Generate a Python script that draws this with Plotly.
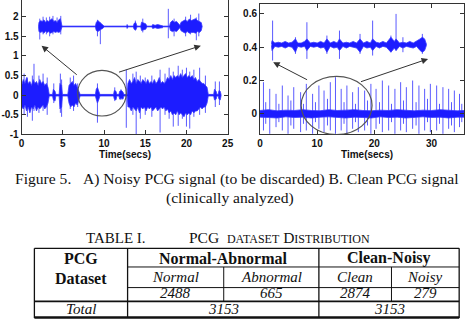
import plotly.graph_objects as go

# ---------------- Panel A: noisy PCG (left) ----------------
# envelope of the dense signal bursts (time, upper, lower)
a_env_t = [0.0, 0.2, 0.4, 0.6, 0.8, 1.0, 1.2, 1.4, 1.6, 1.8, 2.0, 2.2, 2.4, 2.6, 2.8, 3.0, 3.2, 3.35,
           3.75, 3.85, 4.05, 4.15, 4.55, 4.65, 4.85, 4.95, 5.6, 5.75, 5.95, 6.15, 6.35, 6.55, 6.75, 6.95, 7.1,
           8.95, 9.05, 9.2, 9.35, 9.5, 11.15, 11.25, 11.45, 11.55, 11.8, 11.9, 12.1, 12.3, 12.4, 12.8,
           12.9, 13.1, 13.3, 13.5, 13.7, 13.9, 14.1, 14.3, 14.5, 14.7, 14.9, 15.1, 15.3, 15.5, 15.7, 15.9,
           16.1, 16.3, 16.5, 16.7, 16.9, 17.1, 17.3, 17.5, 17.7, 17.9, 18.1, 18.3, 18.5, 18.7, 18.9, 19.1,
           19.3, 19.5, 19.7, 19.9, 20.1, 20.3, 20.5, 20.7, 20.9, 21.1, 21.3, 21.5, 21.7, 21.9, 22.1, 22.3,
           22.5, 22.65, 23.3, 23.4, 23.6, 23.7, 23.85, 23.95, 24.1, 24.2]
a_env_hi = [0.25, 0.4, 0.3, 0.45, 0.3, 0.35, 0.25, 0.4, 0.3, 0.35, 0.25, 0.4, 0.3, 0.35, 0.25, 0.3, 0.2, 0.02,
            0.02, 0.15, 0.1, 0.02, 0.02, 0.3, 0.25, 0.02, 0.02, 0.25, 0.3, 0.35, 0.25, 0.3, 0.2, 0.1, 0.02,
            0.02, 0.15, 0.2, 0.12, 0.02, 0.02, 0.12, 0.1, 0.02, 0.02, 0.1, 0.12, 0.08, 0.02, 0.02,
            0.3, 0.4, 0.3, 0.35, 0.45, 0.3, 0.4, 0.35, 0.3, 0.4, 0.35, 0.3, 0.4, 0.3, 0.35, 0.3,
            0.4, 0.3, 0.35, 0.45, 0.3, 0.35, 0.3, 0.35, 0.45, 0.4, 0.5, 0.4, 0.5, 0.45, 0.5, 0.45,
            0.55, 0.45, 0.5, 0.55, 0.45, 0.5, 0.45, 0.5, 0.4, 0.45, 0.35, 0.4, 0.35, 0.3, 0.3, 0.25,
            0.2, 0.02, 0.02, 0.15, 0.1, 0.02, 0.02, 0.12, 0.1, 0.02]
a_env_lo = [-0.3, -0.35, -0.25, -0.4, -0.3, -0.45, -0.3, -0.35, -0.25, -0.4, -0.3, -0.35, -0.3, -0.25, -0.35, -0.3, -0.2, -0.02,
            -0.02, -0.12, -0.15, -0.02, -0.02, -0.35, -0.3, -0.02, -0.02, -0.2, -0.3, -0.25, -0.3, -0.2, -0.25, -0.1, -0.02,
            -0.02, -0.1, -0.2, -0.12, -0.02, -0.02, -0.1, -0.12, -0.02, -0.02, -0.1, -0.08, -0.1, -0.02, -0.02,
            -0.3, -0.3, -0.4, -0.3, -0.35, -0.4, -0.3, -0.45, -0.3, -0.35, -0.3, -0.4, -0.3, -0.35, -0.3, -0.4,
            -0.35, -0.3, -0.4, -0.35, -0.3, -0.35, -0.3, -0.4, -0.35, -0.45, -0.4, -0.5, -0.45, -0.5, -0.4, -0.5,
            -0.45, -0.5, -0.55, -0.45, -0.5, -0.45, -0.5, -0.4, -0.45, -0.4, -0.4, -0.35, -0.3, -0.35, -0.3, -0.3,
            -0.2, -0.02, -0.02, -0.12, -0.1, -0.02, -0.02, -0.1, -0.12, -0.02]
# isolated spikes (time, top, bottom)
a_spk_t = [0.3, 0.7, 1.3, 1.5, 2.1, 2.6, 3.1, 3.9, 4.7, 4.85, 5.9, 6.3, 6.8, 9.2, 11.3, 12.05, 12.7, 13.5,
           13.9, 14.4, 15.0, 15.8, 16.8, 17.4, 17.9, 18.4, 19.0, 19.5, 20.0, 20.4, 20.9, 21.6, 22.3, 23.5, 24.0]
a_spk_hi = [0.55, 0.45, 0.5, 0.8, 0.5, 0.55, 0.45, 0.3, 0.55, 0.4, 0.45, 0.5, 0.3, 0.3, 0.2, 0.15, 0.65, 0.55,
            0.6, 0.5, 0.45, 0.5, 0.65, 0.55, 0.7, 0.6, 0.75, 0.65, 0.7, 0.6, 0.65, 0.7, 0.5, 0.35, 0.35]
a_spk_lo = [-0.5, -0.55, -0.65, -0.4, -0.45, -0.4, -0.5, -0.2, -0.45, -0.55, -0.35, -0.4, -0.3, -0.7, -0.15, -0.12, -0.83, -0.5,
            -1.0, -0.6, -0.5, -0.55, -0.95, -0.5, -0.6, -0.8, -0.78, -0.6, -0.8, -0.85, -0.55, -0.5, -0.45, -0.3, -0.25]
a_base_t = [0.0, 24.2]
a_base_y = [0.0, 0.0]

# zoomed inset of panel A (baseline 1.75)
ai_env_t = [2.05, 2.1, 2.3, 2.5, 2.7, 2.9, 3.1, 3.3, 3.5, 3.7, 3.9, 4.1, 4.3, 4.5, 4.7, 4.9,
            8.95, 9.05, 9.25, 9.45, 9.65, 9.85, 10.0, 12.75, 12.8, 12.9, 13.55, 13.65, 13.85, 14.0,
            14.45, 14.55, 14.8, 15.05, 15.2, 15.8, 15.9, 16.2, 16.5, 16.8, 17.1, 17.2,
            17.95, 18.05, 18.3, 18.55, 18.8, 19.05, 19.2, 19.35, 19.6, 19.85, 20.1, 20.35, 20.6, 20.85,
            21.1, 21.35, 21.6, 21.8, 21.9]
ai_env_hi = [1.76, 1.85, 1.9, 1.88, 1.92, 1.86, 1.9, 1.88, 1.92, 1.95, 1.88, 1.9, 1.85, 1.92, 1.95, 1.76,
             1.76, 1.85, 1.9, 1.86, 1.82, 1.8, 1.76, 1.76, 1.8, 1.76, 1.76, 1.83, 1.85, 1.76,
             1.76, 1.86, 1.84, 1.82, 1.76, 1.76, 1.8, 1.78, 1.8, 1.79, 1.78, 1.76,
             1.76, 1.85, 1.9, 1.86, 1.88, 1.82, 1.78, 1.86, 1.9, 1.92, 1.88, 1.94, 1.9, 1.92,
             1.95, 1.9, 1.88, 1.85, 1.76]
ai_env_lo = [1.74, 1.62, 1.6, 1.62, 1.58, 1.63, 1.6, 1.62, 1.58, 1.6, 1.62, 1.6, 1.62, 1.6, 1.62, 1.74,
             1.74, 1.65, 1.62, 1.65, 1.68, 1.7, 1.74, 1.74, 1.7, 1.74, 1.74, 1.68, 1.66, 1.74,
             1.74, 1.65, 1.66, 1.68, 1.74, 1.74, 1.7, 1.72, 1.7, 1.71, 1.72, 1.74,
             1.74, 1.65, 1.62, 1.64, 1.62, 1.68, 1.72, 1.64, 1.6, 1.58, 1.62, 1.58, 1.6, 1.6,
             1.58, 1.62, 1.6, 1.65, 1.74]
ai_spk_t = [2.2, 2.6, 3.0, 3.4, 3.8, 4.3, 4.75, 9.2, 9.55, 13.8, 14.7, 17.8, 18.5, 19.9, 20.5, 21.2, 21.5]
ai_spk_hi = [1.95, 2.0, 1.98, 2.0, 2.02, 1.98, 2.02, 1.92, 1.85, 1.9, 1.95, 2.2, 1.95, 2.0, 2.05, 1.98, 2.08]
ai_spk_lo = [1.42, 1.55, 1.55, 1.5, 1.55, 1.6, 1.55, 1.5, 1.3, 1.65, 1.6, 1.45, 1.5, 1.5, 1.55, 1.4, 1.5]
ai_base_t = [2.05, 21.9]
ai_base_y = [1.75, 1.75]

# ---------------- Panel B: clean PCG (right) ----------------
b_env_t = [0, 1.5, 3, 4.5, 6, 7.5, 9, 10.5, 12, 13.5, 15, 16.5, 18, 19.5, 21, 22.5, 24, 25.5, 27, 28.5,
           30, 31.5, 33, 34.5, 35.7]
b_env_hi = [0.02, 0.025, 0.018, 0.022, 0.02, 0.025, 0.02, 0.018, 0.025, 0.02, 0.022, 0.025, 0.02, 0.018,
            0.022, 0.02, 0.025, 0.02, 0.018, 0.022, 0.02, 0.025, 0.02, 0.018, 0.02]
b_env_lo = [-0.02, -0.022, -0.025, -0.018, -0.022, -0.02, -0.025, -0.02, -0.018, -0.022, -0.025, -0.02,
            -0.022, -0.025, -0.018, -0.022, -0.02, -0.025, -0.02, -0.018, -0.022, -0.02, -0.025, -0.02, -0.02]
b_spk_t = [0.6, 1.7, 2.8, 3.9, 4.9, 5.9, 7.1, 8.1, 9.2, 10.3, 11.2, 12.3, 13.2, 14.2, 15.2, 16.2, 17.2,
           18.3, 19.4, 20.3, 21.4, 22.5, 23.6, 24.6, 25.6, 26.7, 27.8, 28.8, 29.8, 30.9, 32.0, 33.0, 34.0, 34.9]
b_spk_hi = [0.19, 0.15, 0.12, 0.17, 0.11, 0.16, 0.13, 0.18, 0.12, 0.17, 0.14, 0.19, 0.22, 0.15, 0.17, 0.13,
            0.16, 0.14, 0.18, 0.15, 0.2, 0.17, 0.15, 0.19, 0.16, 0.2, 0.17, 0.15, 0.18, 0.17, 0.16, 0.15, 0.14, 0.12]
b_spk_lo = [-0.1, -0.12, -0.08, -0.1, -0.12, -0.09, -0.11, -0.1, -0.12, -0.09, -0.11, -0.1, -0.12, -0.1,
            -0.12, -0.09, -0.11, -0.1, -0.12, -0.09, -0.11, -0.1, -0.12, -0.1, -0.11, -0.09, -0.12, -0.1,
            -0.11, -0.1, -0.12, -0.09, -0.11, -0.08]
b_minor_t = [1.0, 3.3, 5.4, 7.6, 9.7, 11.8, 14.7, 16.7, 18.8, 20.9, 23.0, 25.1, 27.3, 29.3, 31.4, 33.5, 35.3]
b_minor_hi = [0.07, 0.06, 0.08, 0.06, 0.07, 0.09, 0.07, 0.06, 0.08, 0.07, 0.06, 0.08, 0.07, 0.09, 0.06, 0.07, 0.06]
b_minor_lo = [-0.06, -0.05, -0.07, -0.06, -0.05, -0.07, -0.06, -0.05, -0.07, -0.06, -0.05, -0.06, -0.07, -0.05, -0.06, -0.07, -0.05]

# zoomed inset of panel B (baseline 0.415)
bi_env_t = [2.0, 2.1, 2.6, 3.2, 3.8, 4.4, 5.0, 5.6, 6.2, 6.6, 7.2, 7.8, 8.2, 8.8, 9.4, 10.0, 10.6, 11.2,
            11.7, 12.3, 12.9, 13.5, 13.9, 14.5, 15.1, 15.7, 16.3, 16.9, 17.5, 18.1, 18.7, 19.3, 19.7, 20.3,
            20.9, 21.5, 22.1, 22.9, 23.5, 23.8, 24.4, 25.0, 25.6, 26.2, 26.8, 27.4, 28.0, 28.4, 28.8, 29.1]
bi_env_hi = [0.42, 0.44, 0.425, 0.43, 0.425, 0.435, 0.425, 0.43, 0.45, 0.425, 0.425, 0.435, 0.45, 0.425, 0.43,
             0.425, 0.435, 0.425, 0.45, 0.425, 0.435, 0.425, 0.45, 0.425, 0.43, 0.425, 0.435, 0.425, 0.45, 0.425,
             0.435, 0.425, 0.45, 0.43, 0.425, 0.435, 0.425, 0.46, 0.435, 0.45, 0.425, 0.43, 0.425, 0.435, 0.425,
             0.435, 0.45, 0.46, 0.45, 0.42]
bi_env_lo = [0.41, 0.38, 0.405, 0.4, 0.405, 0.395, 0.405, 0.4, 0.37, 0.405, 0.4, 0.405, 0.38, 0.405, 0.4,
             0.405, 0.395, 0.4, 0.37, 0.405, 0.395, 0.4, 0.38, 0.405, 0.395, 0.405, 0.4, 0.395, 0.37, 0.405,
             0.395, 0.4, 0.38, 0.405, 0.395, 0.405, 0.4, 0.37, 0.395, 0.38, 0.405, 0.395, 0.405, 0.4, 0.395,
             0.405, 0.38, 0.37, 0.38, 0.41]
bi_spk_t = [2.2, 6.2, 8.2, 11.7, 13.9, 17.5, 19.7, 22.9, 23.8, 25.0, 28.4]
bi_spk_hi = [0.56, 0.46, 0.55, 0.47, 0.5, 0.48, 0.56, 0.47, 0.6, 0.46, 0.48]
bi_spk_lo = [0.32, 0.36, 0.33, 0.36, 0.33, 0.36, 0.35, 0.37, 0.38, 0.37, 0.36]

# ---------------- Table I ----------------
tbl_groups = ["Normal-Abnormal", "Clean-Noisy"]
tbl_classes = ["Normal", "Abnormal", "Clean", "Noisy"]
tbl_counts = [2488, 665, 2874, 279]
tbl_totals = [3153, 3153]

BLUE = "#1c1cff"
SPIKE = "#5a5aff"
GRAY = "#555555"

fig = go.Figure()


def add_env(t, hi, lo, xa, ya):
    fig.add_trace(go.Scatter(x=list(t) + list(t)[::-1], y=list(hi) + list(lo)[::-1], mode="lines",
                             fill="toself", fillcolor=BLUE, line=dict(color="#3a3aff", width=0.8),
                             xaxis=xa, yaxis=ya, hoverinfo="skip"))


def add_spk(t, hi, lo, xa, ya, color=SPIKE, width=1):
    xs, ys = [], []
    for tt, h, l in zip(t, hi, lo):
        xs += [tt, tt, None]
        ys += [l, h, None]
    fig.add_trace(go.Scatter(x=xs, y=ys, mode="lines", line=dict(color=color, width=width),
                             xaxis=xa, yaxis=ya, hoverinfo="skip"))


def add_base(t, y, xa, ya):
    fig.add_trace(go.Scatter(x=t, y=y, mode="lines", line=dict(color=BLUE, width=1.2),
                             xaxis=xa, yaxis=ya, hoverinfo="skip"))


add_base(a_base_t, a_base_y, "x", "y")
add_spk(a_spk_t, a_spk_hi, a_spk_lo, "x", "y")
add_env(a_env_t, a_env_hi, a_env_lo, "x", "y")
add_base(ai_base_t, ai_base_y, "x", "y")
add_spk(ai_spk_t, ai_spk_hi, ai_spk_lo, "x", "y")
add_env(ai_env_t, ai_env_hi, ai_env_lo, "x", "y")

add_spk(b_minor_t, b_minor_hi, b_minor_lo, "x2", "y2")
add_spk(b_spk_t, b_spk_hi, b_spk_lo, "x2", "y2")
add_env(b_env_t, b_env_hi, b_env_lo, "x2", "y2")
add_spk(bi_spk_t, bi_spk_hi, bi_spk_lo, "x2", "y2")
add_env(bi_env_t, bi_env_hi, bi_env_lo, "x2", "y2")

W, H = 474, 325


def px(x):
    return x / W


def py(y):
    return 1 - y / H


tickfont = dict(family="Liberation Sans, Arial", size=10, color="#111", weight=700)
axcommon = dict(showgrid=False, zeroline=False, showline=True, linecolor="#333", linewidth=1,
                ticks="inside", ticklen=4, tickcolor="#333", tickfont=tickfont)

fig.update_layout(
    width=W, height=H, margin=dict(l=0, r=0, t=0, b=0),
    paper_bgcolor="white", plot_bgcolor="white", showlegend=False,
    xaxis=dict(domain=[px(19), px(229)], range=[0, 25], anchor="y", tickvals=[0, 5, 10, 15, 20, 25],
               mirror=False, **axcommon),
    yaxis=dict(domain=[py(137), 1], range=[-1, 2.425], anchor="x",
               tickvals=[-1, -0.5, 0, 0.5, 1, 1.5, 2],
               ticktext=["-1", "-0.5", "0", "0.5", "1", "1.5", "2"], mirror="ticks", **axcommon),
    xaxis2=dict(domain=[px(262), px(470)], range=[0, 35.7], anchor="y2", tickvals=[0, 10, 20, 30],
                mirror="ticks", **axcommon),
    yaxis2=dict(domain=[py(137), py(4)], range=[-0.124, 0.66], anchor="x2",
                tickvals=[0, 0.2, 0.4, 0.6], ticktext=["0", "0.2", "0.4", "0.6"], mirror="ticks", **axcommon),
)

# ellipses around the zoomed region
fig.add_shape(type="circle", xref="x", yref="y", x0=9.75 - 2.95, x1=9.75 + 2.95, y0=0.05 - 0.58, y1=0.05 + 0.58,
              line=dict(color=GRAY, width=1.2))
fig.add_shape(type="circle", xref="x2", yref="y2", x0=13.4 - 6.2, x1=13.4 + 6.2, y0=0.05 - 0.175, y1=0.05 + 0.175,
              line=dict(color=GRAY, width=1.2))

# arrows
arrows = [("x", "y", 6.87, 0.49, 2.42, 1.26), ("x", "y", 11.63, 0.575, 21.75, 1.26),
          ("x2", "y2", 8.5, 0.2, 2.3, 0.31), ("x2", "y2", 17.4, 0.19, 29.4, 0.33)]
for xa, ya, tx, ty, hx, hy in arrows:
    fig.add_annotation(x=hx, y=hy, ax=tx, ay=ty, xref=xa, yref=ya, axref=xa, ayref=ya, text="",
                       showarrow=True, arrowhead=2, arrowsize=1.3, arrowwidth=1, arrowcolor="#333")

# axis titles
for cx in (124, 371):
    fig.add_annotation(x=px(cx), y=py(157), xref="paper", yref="paper", text="Time(secs)", showarrow=False,
                       font=dict(family="Liberation Sans, Arial", size=10, color="#111", weight=700),
                       xanchor="center", yanchor="middle")

serif = "Liberation Serif, Times New Roman"
cap = dict(family=serif, size=15.6, color="#111")
fig.add_annotation(x=px(10), y=py(182), xref="paper", yref="paper", text="Figure 5.", showarrow=False,
                   font=cap, xanchor="left", yanchor="middle")
fig.add_annotation(x=px(80), y=py(182), xref="paper", yref="paper",
                   text="A) Noisy PCG signal (to be discarded) B. Clean PCG signal", showarrow=False,
                   font=cap, xanchor="left", yanchor="middle")
fig.add_annotation(x=px(231), y=py(202), xref="paper", yref="paper", text="(clinically analyzed)",
                   showarrow=False, font=cap, xanchor="center", yanchor="middle")

# table title (small caps built from two sizes)
fig.add_annotation(x=px(83), y=py(242), xref="paper", yref="paper", text="TABLE I.", showarrow=False,
                   font=dict(family=serif, size=15, color="#111"), xanchor="left", yanchor="middle")
sc = "<span style='font-size:12px'>%s</span>"
fig.add_annotation(x=px(188), y=py(242), xref="paper", yref="paper",
                   text="PCG\u00a0\u00a0" + sc % "DATASET" + " D" + sc % "ISTRIBUTION",
                   showarrow=False, font=dict(family=serif, size=15.5, color="#111"),
                   xanchor="left", yanchor="middle")

# table grid
L, C1, C2, C3, C4, R = 32, 127, 225, 322, 396, 465
T, R1, R2, R3, B = 253, 272, 293, 307, 324
lines = [
    (L, T, R, T, 1.3), (L, T, L, B, 1.3), (R, T, R, B, 1.3), (C1, T, C1, B, 1.3), (C3, T, C3, B, 1.3),
    (C2, R1, C2, R3, 1.0), (C4, R1, C4, R3, 1.0), (C1, R1, R, R1, 1.0), (C1, R2, R, R2, 1.0),
    (L, R3, R, R3, 1.8), (L, B - 0.5, R, B - 0.5, 2.5),
]
for x0, y0, x1, y1, w in lines:
    fig.add_shape(type="line", xref="paper", yref="paper", x0=px(x0), y0=py(y0), x1=px(x1), y1=py(y1),
                  line=dict(color="#111", width=w))

tfont = dict(family=serif, size=15, color="#111")
bfont = dict(family=serif, size=16, color="#111")


def cell(x, y, text, font=tfont):
    fig.add_annotation(x=px(x), y=py(y), xref="paper", yref="paper", text=text, showarrow=False,
                       font=font, xanchor="center", yanchor="middle")


cell((L + C1) / 2, 263, "<b>PCG</b>", bfont)
cell((L + C1) / 2, 284, "<b>Dataset</b>", bfont)
cell((C1 + C3) / 2, 263, "<b>%s</b>" % tbl_groups[0], bfont)
cell((C3 + R) / 2, 263, "<b>%s</b>" % tbl_groups[1], bfont)
col_centers = [(C1 + C2) / 2, (C2 + C3) / 2, (C3 + C4) / 2, (C4 + R) / 2]
for cx, name, cnt in zip(col_centers, tbl_classes, tbl_counts):
    cell(cx, 282, "<i>%s</i>" % name)
    cell(cx, 299, "<i>%d</i>" % cnt)
cell((L + C1) / 2, 315, "<i>Total</i>")
cell((C1 + C3) / 2, 315, "<i>%d</i>" % tbl_totals[0])
cell((C3 + R) / 2, 315, "<i>%d</i>" % tbl_totals[1])

fig.write_html("out.html")
